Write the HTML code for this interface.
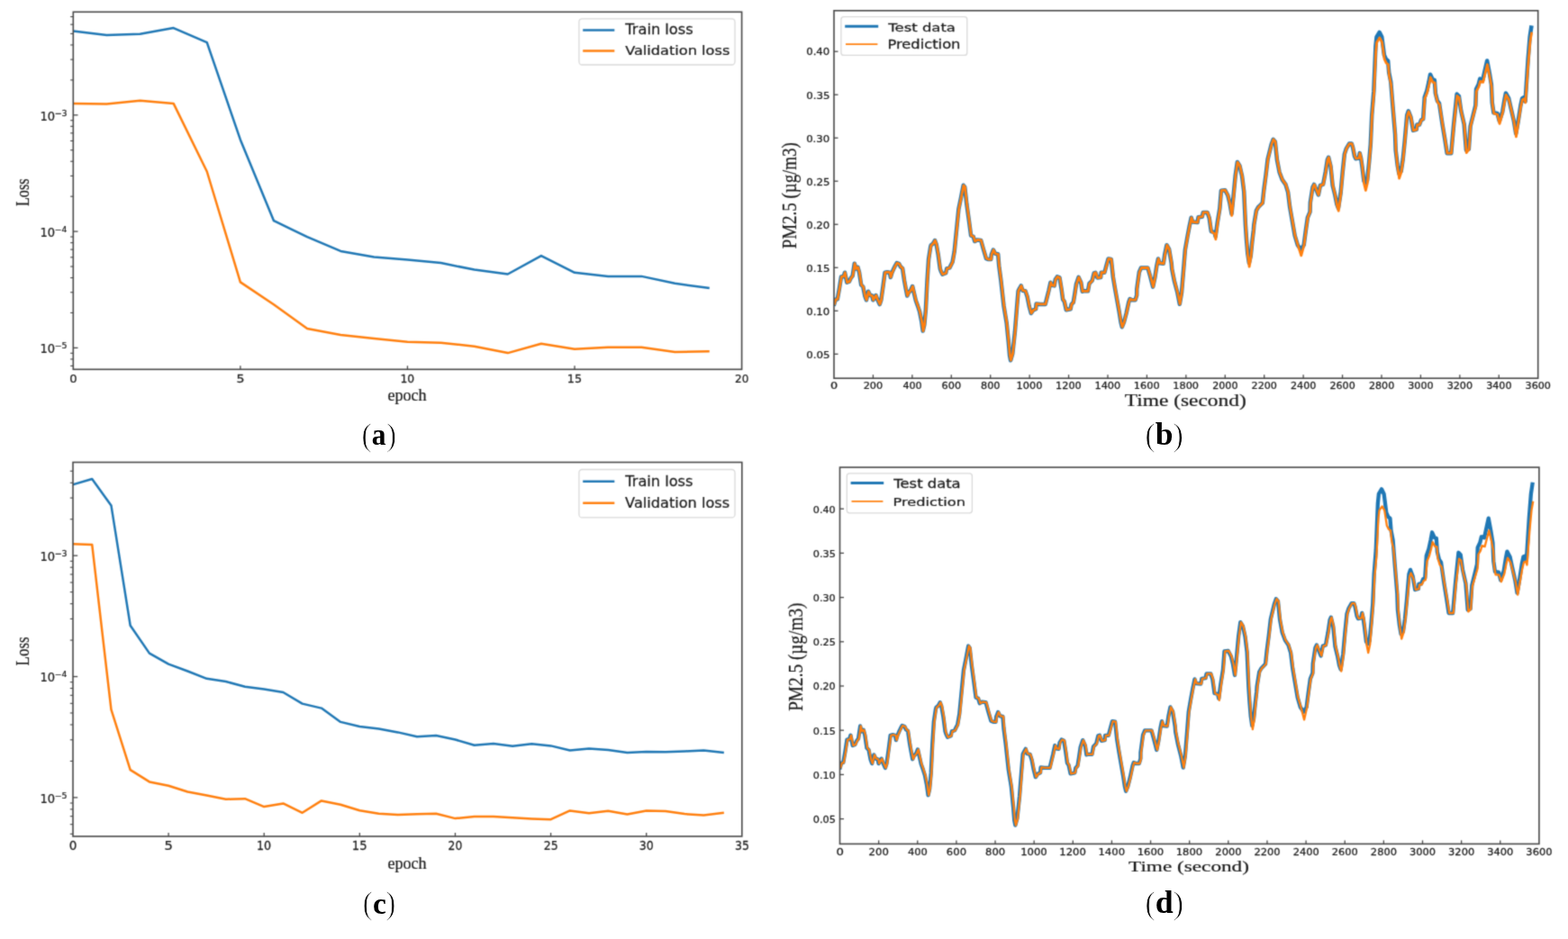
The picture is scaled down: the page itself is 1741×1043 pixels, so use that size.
<!DOCTYPE html>
<html><head><meta charset="utf-8"><title>Figure</title><style>html,body{margin:0;padding:0;background:#fff;overflow:hidden;}svg{display:block;}</style></head><body>
<svg width="1741" height="1043" viewBox="0 0 1741 1043">
<defs>
<clipPath id="ca"><rect x="81.3" y="13.3" width="742.30" height="397.00"/></clipPath>
<clipPath id="cc"><rect x="81.0" y="513.5" width="742.80" height="415.50"/></clipPath>
<clipPath id="cb"><rect x="926.0" y="11.8" width="781.70" height="408.40"/></clipPath>
<clipPath id="cd"><rect x="932.5" y="519.1" width="776.40" height="418.30"/></clipPath>
<filter id="soft" x="0" y="0" width="1741" height="1043" filterUnits="userSpaceOnUse" color-interpolation-filters="sRGB"><feConvolveMatrix order="3" kernelMatrix="1 4 1 4 16 4 1 4 1" edgeMode="duplicate" preserveAlpha="true"/></filter>
</defs>
<rect x="0" y="0" width="1741" height="1043" fill="#ffffff"/>
<g filter="url(#soft)"><rect x="0" y="0" width="1741" height="1043" fill="#ffffff"/>
<g clip-path="url(#ca)">
<polyline points="81.30,34.60 118.41,38.90 155.53,37.70 192.64,31.10 229.76,47.10 266.88,155.20 303.99,245.20 341.11,263.20 378.22,278.90 415.34,285.40 452.45,288.40 489.57,292.10 526.68,299.60 563.79,304.50 600.91,284.10 638.02,302.80 675.14,306.90 712.25,306.90 749.37,314.80 786.49,319.90" fill="none" stroke="#1f77b4" stroke-width="2.5" stroke-linejoin="round" stroke-linecap="square"/>
<polyline points="81.30,115.10 118.41,115.50 155.53,111.70 192.64,114.90 229.76,190.50 266.88,313.40 303.99,338.20 341.11,365.00 378.22,372.00 415.34,375.90 452.45,379.70 489.57,380.70 526.68,384.70 563.79,392.10 600.91,381.70 638.02,387.80 675.14,385.70 712.25,385.70 749.37,391.00 786.49,390.30" fill="none" stroke="#ff7f0e" stroke-width="2.5" stroke-linejoin="round" stroke-linecap="square"/>
</g>
<rect x="81.30" y="13.30" width="742.30" height="397.00" fill="none" stroke="#484848" stroke-width="1.6"/>
<line x1="78.10" y1="406.43" x2="81.30" y2="406.43" stroke="#484848" stroke-width="1.1"/>
<line x1="78.10" y1="398.93" x2="81.30" y2="398.93" stroke="#484848" stroke-width="1.1"/>
<line x1="78.10" y1="392.32" x2="81.30" y2="392.32" stroke="#484848" stroke-width="1.1"/>
<line x1="78.10" y1="347.48" x2="81.30" y2="347.48" stroke="#484848" stroke-width="1.1"/>
<line x1="78.10" y1="324.71" x2="81.30" y2="324.71" stroke="#484848" stroke-width="1.1"/>
<line x1="78.10" y1="308.55" x2="81.30" y2="308.55" stroke="#484848" stroke-width="1.1"/>
<line x1="78.10" y1="296.02" x2="81.30" y2="296.02" stroke="#484848" stroke-width="1.1"/>
<line x1="78.10" y1="285.79" x2="81.30" y2="285.79" stroke="#484848" stroke-width="1.1"/>
<line x1="78.10" y1="277.13" x2="81.30" y2="277.13" stroke="#484848" stroke-width="1.1"/>
<line x1="78.10" y1="269.63" x2="81.30" y2="269.63" stroke="#484848" stroke-width="1.1"/>
<line x1="78.10" y1="263.02" x2="81.30" y2="263.02" stroke="#484848" stroke-width="1.1"/>
<line x1="78.10" y1="218.18" x2="81.30" y2="218.18" stroke="#484848" stroke-width="1.1"/>
<line x1="78.10" y1="195.41" x2="81.30" y2="195.41" stroke="#484848" stroke-width="1.1"/>
<line x1="78.10" y1="179.25" x2="81.30" y2="179.25" stroke="#484848" stroke-width="1.1"/>
<line x1="78.10" y1="166.72" x2="81.30" y2="166.72" stroke="#484848" stroke-width="1.1"/>
<line x1="78.10" y1="156.49" x2="81.30" y2="156.49" stroke="#484848" stroke-width="1.1"/>
<line x1="78.10" y1="147.83" x2="81.30" y2="147.83" stroke="#484848" stroke-width="1.1"/>
<line x1="78.10" y1="140.33" x2="81.30" y2="140.33" stroke="#484848" stroke-width="1.1"/>
<line x1="78.10" y1="133.72" x2="81.30" y2="133.72" stroke="#484848" stroke-width="1.1"/>
<line x1="78.10" y1="88.88" x2="81.30" y2="88.88" stroke="#484848" stroke-width="1.1"/>
<line x1="78.10" y1="66.11" x2="81.30" y2="66.11" stroke="#484848" stroke-width="1.1"/>
<line x1="78.10" y1="49.95" x2="81.30" y2="49.95" stroke="#484848" stroke-width="1.1"/>
<line x1="78.10" y1="37.42" x2="81.30" y2="37.42" stroke="#484848" stroke-width="1.1"/>
<line x1="78.10" y1="27.19" x2="81.30" y2="27.19" stroke="#484848" stroke-width="1.1"/>
<line x1="78.10" y1="18.53" x2="81.30" y2="18.53" stroke="#484848" stroke-width="1.1"/>
<line x1="81.30" y1="127.80" x2="86.50" y2="127.80" stroke="#484848" stroke-width="1.3"/>
<text id="t1" transform="translate(44.52,133.60) scale(0.9611,1)" font-family='"DejaVu Sans", "Liberation Sans", sans-serif' font-size="13.595" fill="#1c1c1c" stroke="#1c1c1c" stroke-width="0.25">10</text>
<text id="t2" transform="translate(60.70,128.61) scale(1.0803,1)" font-family='"DejaVu Sans", "Liberation Sans", sans-serif' font-size="8.723" fill="#1c1c1c" stroke="#1c1c1c" stroke-width="0.25">−3</text>
<line x1="81.30" y1="257.10" x2="86.50" y2="257.10" stroke="#484848" stroke-width="1.3"/>
<text id="t3" transform="translate(44.52,262.93) scale(0.9611,1)" font-family='"DejaVu Sans", "Liberation Sans", sans-serif' font-size="13.595" fill="#1c1c1c" stroke="#1c1c1c" stroke-width="0.25">10</text>
<text id="t4" transform="translate(60.72,258.03) scale(1.0311,1)" font-family='"DejaVu Sans", "Liberation Sans", sans-serif' font-size="8.943" fill="#1c1c1c" stroke="#1c1c1c" stroke-width="0.25">−4</text>
<line x1="81.30" y1="386.40" x2="86.50" y2="386.40" stroke="#484848" stroke-width="1.3"/>
<text id="t5" transform="translate(44.52,392.13) scale(0.9611,1)" font-family='"DejaVu Sans", "Liberation Sans", sans-serif' font-size="13.595" fill="#1c1c1c" stroke="#1c1c1c" stroke-width="0.25">10</text>
<text id="t6" transform="translate(60.68,387.25) scale(1.0716,1)" font-family='"DejaVu Sans", "Liberation Sans", sans-serif' font-size="8.830" fill="#1c1c1c" stroke="#1c1c1c" stroke-width="0.25">−5</text>
<text id="t7" transform="translate(77.19,424.59) scale(1.0171,1)" font-family='"DejaVu Sans", "Liberation Sans", sans-serif' font-size="12.904" fill="#1c1c1c" stroke="#1c1c1c" stroke-width="0.25">0</text>
<line x1="266.88" y1="410.30" x2="266.88" y2="406.30" stroke="#484848" stroke-width="1.3"/>
<text id="t8" transform="translate(262.47,424.59) scale(1.0866,1)" font-family='"DejaVu Sans", "Liberation Sans", sans-serif' font-size="13.087" fill="#1c1c1c" stroke="#1c1c1c" stroke-width="0.25">5</text>
<line x1="452.45" y1="410.30" x2="452.45" y2="406.30" stroke="#484848" stroke-width="1.3"/>
<text id="t9" transform="translate(444.40,424.59) scale(0.9577,1)" font-family='"DejaVu Sans", "Liberation Sans", sans-serif' font-size="12.913" fill="#1c1c1c" stroke="#1c1c1c" stroke-width="0.25">10</text>
<line x1="638.02" y1="410.30" x2="638.02" y2="406.30" stroke="#484848" stroke-width="1.3"/>
<text id="t10" transform="translate(629.81,424.59) scale(0.9793,1)" font-family='"DejaVu Sans", "Liberation Sans", sans-serif' font-size="13.087" fill="#1c1c1c" stroke="#1c1c1c" stroke-width="0.25">15</text>
<text id="t11" transform="translate(816.05,424.59) scale(0.9264,1)" font-family='"DejaVu Sans", "Liberation Sans", sans-serif' font-size="12.921" fill="#1c1c1c" stroke="#1c1c1c" stroke-width="0.25">20</text>
<text id="t12" transform="translate(430.40,445.03) scale(0.9879,1)" font-family='"Liberation Serif", serif' font-size="18.347" fill="#1a1a1a" stroke="#151515" stroke-width="0.2">epoch</text>
<text id="t13" transform="translate(32.41,229.06) rotate(-90) scale(0.8130,1)" font-family='"Liberation Serif", serif' font-size="20.007" fill="#1a1a1a" stroke="#151515" stroke-width="0.2">Loss</text>
<rect x="642.90" y="20.80" width="173.10" height="51.20" rx="3.5" ry="3.5" fill="#ffffff" fill-opacity="0.8" stroke="#d9d9d9" stroke-width="1.3"/>
<line x1="647.20" y1="33.50" x2="682.30" y2="33.50" stroke="#1f77b4" stroke-width="2.4"/>
<text id="t14" transform="translate(694.27,38.35) scale(1.0743,1)" font-family='"DejaVu Sans", "Liberation Sans", sans-serif' font-size="15.092" fill="#1c1c1c" stroke="#1c1c1c" stroke-width="0.25">Train loss</text>
<line x1="647.20" y1="56.50" x2="682.30" y2="56.50" stroke="#ff7f0e" stroke-width="2.4"/>
<text id="t15" transform="translate(694.13,61.21) scale(1.0920,1)" font-family='"DejaVu Sans", "Liberation Sans", sans-serif' font-size="14.810" fill="#1c1c1c" stroke="#1c1c1c" stroke-width="0.25">Validation loss</text>
<g clip-path="url(#cc)">
<polyline points="81.00,538.20 102.22,532.00 123.45,561.40 144.67,694.80 165.89,725.60 187.11,737.70 208.34,745.50 229.56,753.80 250.78,757.00 272.01,762.80 293.23,765.40 314.45,769.00 335.67,781.60 356.90,786.60 378.12,801.90 399.34,807.00 420.57,809.50 441.79,813.40 463.01,818.20 484.23,817.00 505.46,821.50 526.68,827.80 547.90,826.10 569.13,828.80 590.35,826.30 611.57,828.40 632.79,833.50 654.02,831.60 675.24,833.00 696.46,835.90 717.69,834.90 738.91,835.20 760.13,834.50 781.35,833.50 802.58,835.90" fill="none" stroke="#1f77b4" stroke-width="2.5" stroke-linejoin="round" stroke-linecap="square"/>
<polyline points="81.00,604.20 102.22,604.90 123.45,788.20 144.67,855.10 165.89,868.40 187.11,872.70 208.34,879.50 229.56,883.40 250.78,887.70 272.01,887.20 293.23,896.10 314.45,892.40 335.67,902.80 356.90,889.40 378.12,893.70 399.34,900.20 420.57,903.70 441.79,904.90 463.01,904.20 484.23,903.70 505.46,909.10 526.68,907.00 547.90,906.90 569.13,908.20 590.35,909.40 611.57,910.20 632.79,900.40 654.02,903.30 675.24,900.80 696.46,904.40 717.69,900.50 738.91,901.10 760.13,904.10 781.35,905.60 802.58,903.00" fill="none" stroke="#ff7f0e" stroke-width="2.5" stroke-linejoin="round" stroke-linecap="square"/>
</g>
<rect x="81.00" y="513.50" width="742.80" height="415.50" fill="none" stroke="#484848" stroke-width="1.6"/>
<line x1="77.80" y1="926.31" x2="81.00" y2="926.31" stroke="#484848" stroke-width="1.1"/>
<line x1="77.80" y1="915.68" x2="81.00" y2="915.68" stroke="#484848" stroke-width="1.1"/>
<line x1="77.80" y1="906.68" x2="81.00" y2="906.68" stroke="#484848" stroke-width="1.1"/>
<line x1="77.80" y1="898.89" x2="81.00" y2="898.89" stroke="#484848" stroke-width="1.1"/>
<line x1="77.80" y1="892.02" x2="81.00" y2="892.02" stroke="#484848" stroke-width="1.1"/>
<line x1="77.80" y1="845.43" x2="81.00" y2="845.43" stroke="#484848" stroke-width="1.1"/>
<line x1="77.80" y1="821.77" x2="81.00" y2="821.77" stroke="#484848" stroke-width="1.1"/>
<line x1="77.80" y1="804.98" x2="81.00" y2="804.98" stroke="#484848" stroke-width="1.1"/>
<line x1="77.80" y1="791.96" x2="81.00" y2="791.96" stroke="#484848" stroke-width="1.1"/>
<line x1="77.80" y1="781.33" x2="81.00" y2="781.33" stroke="#484848" stroke-width="1.1"/>
<line x1="77.80" y1="772.33" x2="81.00" y2="772.33" stroke="#484848" stroke-width="1.1"/>
<line x1="77.80" y1="764.54" x2="81.00" y2="764.54" stroke="#484848" stroke-width="1.1"/>
<line x1="77.80" y1="757.67" x2="81.00" y2="757.67" stroke="#484848" stroke-width="1.1"/>
<line x1="77.80" y1="711.08" x2="81.00" y2="711.08" stroke="#484848" stroke-width="1.1"/>
<line x1="77.80" y1="687.42" x2="81.00" y2="687.42" stroke="#484848" stroke-width="1.1"/>
<line x1="77.80" y1="670.63" x2="81.00" y2="670.63" stroke="#484848" stroke-width="1.1"/>
<line x1="77.80" y1="657.61" x2="81.00" y2="657.61" stroke="#484848" stroke-width="1.1"/>
<line x1="77.80" y1="646.98" x2="81.00" y2="646.98" stroke="#484848" stroke-width="1.1"/>
<line x1="77.80" y1="637.98" x2="81.00" y2="637.98" stroke="#484848" stroke-width="1.1"/>
<line x1="77.80" y1="630.19" x2="81.00" y2="630.19" stroke="#484848" stroke-width="1.1"/>
<line x1="77.80" y1="623.32" x2="81.00" y2="623.32" stroke="#484848" stroke-width="1.1"/>
<line x1="77.80" y1="576.73" x2="81.00" y2="576.73" stroke="#484848" stroke-width="1.1"/>
<line x1="77.80" y1="553.07" x2="81.00" y2="553.07" stroke="#484848" stroke-width="1.1"/>
<line x1="77.80" y1="536.28" x2="81.00" y2="536.28" stroke="#484848" stroke-width="1.1"/>
<line x1="77.80" y1="523.26" x2="81.00" y2="523.26" stroke="#484848" stroke-width="1.1"/>
<line x1="81.00" y1="617.17" x2="86.20" y2="617.17" stroke="#484848" stroke-width="1.3"/>
<text id="t16" transform="translate(44.52,622.96) scale(0.9611,1)" font-family='"DejaVu Sans", "Liberation Sans", sans-serif' font-size="13.595" fill="#1c1c1c" stroke="#1c1c1c" stroke-width="0.25">10</text>
<text id="t17" transform="translate(60.70,618.08) scale(1.0803,1)" font-family='"DejaVu Sans", "Liberation Sans", sans-serif' font-size="8.723" fill="#1c1c1c" stroke="#1c1c1c" stroke-width="0.25">−3</text>
<line x1="81.00" y1="751.52" x2="86.20" y2="751.52" stroke="#484848" stroke-width="1.3"/>
<text id="t18" transform="translate(44.52,757.36) scale(0.9611,1)" font-family='"DejaVu Sans", "Liberation Sans", sans-serif' font-size="13.595" fill="#1c1c1c" stroke="#1c1c1c" stroke-width="0.25">10</text>
<text id="t19" transform="translate(60.72,752.45) scale(1.0311,1)" font-family='"DejaVu Sans", "Liberation Sans", sans-serif' font-size="8.943" fill="#1c1c1c" stroke="#1c1c1c" stroke-width="0.25">−4</text>
<line x1="81.00" y1="885.87" x2="86.20" y2="885.87" stroke="#484848" stroke-width="1.3"/>
<text id="t20" transform="translate(44.52,891.63) scale(0.9611,1)" font-family='"DejaVu Sans", "Liberation Sans", sans-serif' font-size="13.595" fill="#1c1c1c" stroke="#1c1c1c" stroke-width="0.25">10</text>
<text id="t21" transform="translate(60.68,886.63) scale(1.0716,1)" font-family='"DejaVu Sans", "Liberation Sans", sans-serif' font-size="8.830" fill="#1c1c1c" stroke="#1c1c1c" stroke-width="0.25">−5</text>
<text id="t22" transform="translate(76.80,943.97) scale(1.0206,1)" font-family='"DejaVu Sans", "Liberation Sans", sans-serif' font-size="13.306" fill="#1c1c1c" stroke="#1c1c1c" stroke-width="0.25">0</text>
<line x1="187.11" y1="929.00" x2="187.11" y2="925.00" stroke="#484848" stroke-width="1.3"/>
<text id="t23" transform="translate(182.59,943.94) scale(1.0914,1)" font-family='"DejaVu Sans", "Liberation Sans", sans-serif' font-size="13.511" fill="#1c1c1c" stroke="#1c1c1c" stroke-width="0.25">5</text>
<line x1="293.23" y1="929.00" x2="293.23" y2="925.00" stroke="#484848" stroke-width="1.3"/>
<text id="t24" transform="translate(284.92,943.97) scale(0.9560,1)" font-family='"DejaVu Sans", "Liberation Sans", sans-serif' font-size="13.308" fill="#1c1c1c" stroke="#1c1c1c" stroke-width="0.25">10</text>
<line x1="399.34" y1="929.00" x2="399.34" y2="925.00" stroke="#484848" stroke-width="1.3"/>
<text id="t25" transform="translate(390.87,943.94) scale(0.9756,1)" font-family='"DejaVu Sans", "Liberation Sans", sans-serif' font-size="13.512" fill="#1c1c1c" stroke="#1c1c1c" stroke-width="0.25">15</text>
<line x1="505.46" y1="929.00" x2="505.46" y2="925.00" stroke="#484848" stroke-width="1.3"/>
<text id="t26" transform="translate(497.62,943.97) scale(0.9259,1)" font-family='"DejaVu Sans", "Liberation Sans", sans-serif' font-size="13.304" fill="#1c1c1c" stroke="#1c1c1c" stroke-width="0.25">20</text>
<line x1="611.57" y1="929.00" x2="611.57" y2="925.00" stroke="#484848" stroke-width="1.3"/>
<text id="t27" transform="translate(603.78,943.94) scale(0.9399,1)" font-family='"DejaVu Sans", "Liberation Sans", sans-serif' font-size="13.270" fill="#1c1c1c" stroke="#1c1c1c" stroke-width="0.25">25</text>
<line x1="717.69" y1="929.00" x2="717.69" y2="925.00" stroke="#484848" stroke-width="1.3"/>
<text id="t28" transform="translate(709.79,943.93) scale(0.9368,1)" font-family='"DejaVu Sans", "Liberation Sans", sans-serif' font-size="13.291" fill="#1c1c1c" stroke="#1c1c1c" stroke-width="0.25">30</text>
<text id="t29" transform="translate(815.97,943.93) scale(0.9410,1)" font-family='"DejaVu Sans", "Liberation Sans", sans-serif' font-size="13.291" fill="#1c1c1c" stroke="#1c1c1c" stroke-width="0.25">35</text>
<text id="t30" transform="translate(430.40,965.11) scale(0.9587,1)" font-family='"Liberation Serif", serif' font-size="18.909" fill="#1a1a1a" stroke="#151515" stroke-width="0.2">epoch</text>
<text id="t31" transform="translate(32.41,739.45) rotate(-90) scale(0.8491,1)" font-family='"Liberation Serif", serif' font-size="20.008" fill="#1a1a1a" stroke="#151515" stroke-width="0.2">Loss</text>
<rect x="642.90" y="521.50" width="173.10" height="53.40" rx="3.5" ry="3.5" fill="#ffffff" fill-opacity="0.8" stroke="#d9d9d9" stroke-width="1.3"/>
<line x1="647.20" y1="534.70" x2="682.30" y2="534.70" stroke="#1f77b4" stroke-width="2.4"/>
<text id="t32" transform="translate(694.26,539.86) scale(1.0079,1)" font-family='"DejaVu Sans", "Liberation Sans", sans-serif' font-size="16.061" fill="#1c1c1c" stroke="#1c1c1c" stroke-width="0.25">Train loss</text>
<line x1="647.20" y1="558.80" x2="682.30" y2="558.80" stroke="#ff7f0e" stroke-width="2.4"/>
<text id="t33" transform="translate(694.11,563.84) scale(1.0037,1)" font-family='"DejaVu Sans", "Liberation Sans", sans-serif' font-size="16.107" fill="#1c1c1c" stroke="#1c1c1c" stroke-width="0.25">Validation loss</text>
<g clip-path="url(#cb)">
<polyline points="926.32,337.51 927.69,332.76 929.80,332.24 931.91,320.63 934.02,307.45 936.66,306.92 938.03,302.70 940.35,313.78 942.99,312.72 944.57,309.03 946.68,306.39 948.79,292.68 950.37,298.48 952.48,296.90 954.06,302.70 956.17,316.41 958.28,318.52 960.39,329.07 961.97,333.29 964.08,323.80 966.19,328.02 968.30,328.54 969.36,333.29 972.52,328.02 974.11,332.24 976.74,338.04 978.32,333.29 980.43,318.52 982.54,302.70 985.18,302.17 987.82,302.70 988.87,307.97 990.46,302.70 992.57,297.95 994.15,294.79 995.73,292.15 998.37,293.21 999.95,296.37 1002.06,297.95 1004.17,312.19 1005.75,320.63 1007.33,328.54 1008.92,324.85 1011.03,322.74 1013.14,318.00 1015.24,326.96 1016.83,333.82 1018.94,339.62 1021.05,345.95 1023.16,356.50 1024.74,367.57 1026.32,360.72 1027.90,343.84 1029.49,312.19 1031.07,287.93 1033.18,274.22 1033.80,272.28 1035.91,270.70 1038.02,267.00 1039.60,271.22 1041.71,282.83 1043.82,298.44 1044.88,301.60 1046.46,304.77 1050.15,303.19 1051.21,298.44 1054.37,297.38 1056.48,293.16 1057.54,291.27 1059.65,279.66 1061.76,258.57 1064.39,232.19 1067.03,219.54 1069.67,205.82 1071.25,207.93 1073.36,226.92 1076.00,245.91 1078.11,261.73 1080.74,262.78 1082.32,268.06 1084.96,266.48 1089.18,267.00 1091.82,276.50 1094.98,287.05 1097.62,288.10 1100.26,288.10 1100.78,282.83 1102.89,277.55 1105.00,281.77 1108.17,282.30 1109.22,295.27 1111.33,311.10 1114.50,339.58 1117.66,358.57 1119.77,379.66 1121.10,394.94 1122.15,400.21 1124.26,392.83 1126.90,368.57 1129.01,342.19 1130.59,323.21 1132.17,320.04 1133.76,317.41 1135.34,322.68 1138.50,323.21 1140.61,329.54 1142.72,340.08 1144.83,348.00 1147.47,344.30 1150.11,343.25 1150.63,337.45 1154.85,337.97 1160.65,337.97 1162.24,331.65 1164.35,323.21 1166.46,313.71 1168.04,316.88 1170.68,317.41 1171.73,310.55 1173.84,307.38 1176.48,308.44 1178.59,321.10 1180.17,332.70 1181.75,334.81 1183.86,344.30 1188.61,343.25 1189.66,337.97 1191.77,335.86 1193.35,326.37 1194.94,315.82 1197.57,307.91 1200.21,313.71 1201.79,323.73 1202.11,323.33 1207.91,323.33 1209.49,314.89 1212.66,311.73 1214.77,303.29 1216.35,302.76 1218.46,308.57 1222.15,308.04 1222.68,302.76 1226.37,302.76 1228.48,294.85 1230.59,287.47 1233.76,288.00 1235.86,307.51 1237.97,320.17 1240.61,334.94 1242.68,346.37 1244.53,357.97 1245.84,363.25 1247.95,357.97 1250.59,347.95 1253.23,335.82 1254.55,332.13 1256.92,333.19 1260.61,333.19 1262.19,327.91 1262.24,321.22 1264.87,302.24 1266.98,297.49 1274.37,297.49 1277.00,306.46 1280.17,318.59 1282.28,308.57 1284.39,294.85 1285.97,287.47 1287.55,292.22 1291.77,292.74 1293.35,282.19 1295.46,272.17 1298.10,276.92 1300.74,292.74 1301.23,298.86 1303.82,311.81 1307.27,324.77 1309.86,337.72 1312.02,324.77 1314.18,298.86 1315.91,277.27 1318.50,262.59 1320.57,251.77 1322.68,241.75 1324.26,246.50 1329.54,247.03 1330.59,241.22 1334.81,240.70 1335.86,235.95 1340.61,235.95 1342.72,242.28 1344.83,257.05 1348.52,258.10 1349.58,262.85 1351.69,247.55 1354.32,231.73 1355.91,211.69 1360.13,211.16 1363.29,216.96 1365.40,225.40 1367.51,237.53 1369.62,216.96 1371.73,194.81 1373.84,180.04 1376.48,184.26 1379.11,195.86 1381.22,212.74 1382.93,250.00 1383.99,265.82 1385.31,281.65 1386.89,292.19 1388.73,284.28 1390.32,268.46 1391.90,255.27 1392.30,249.66 1394.94,233.84 1397.05,230.15 1399.68,227.51 1401.79,225.40 1403.38,210.63 1405.49,194.81 1407.59,176.88 1411.60,160.59 1413.71,154.79 1415.82,157.43 1417.93,177.47 1420.57,191.18 1423.73,199.62 1427.43,204.89 1430.06,213.33 1432.17,230.21 1437.66,261.65 1440.82,272.19 1444.51,277.41 1447.68,272.19 1449.79,256.37 1451.90,241.60 1454.54,235.27 1454.85,224.94 1457.49,208.06 1459.07,204.89 1461.18,210.17 1463.82,216.50 1465.93,205.95 1469.09,204.89 1471.73,191.18 1473.84,177.47 1475.11,174.83 1477.53,184.85 1479.64,205.95 1482.28,216.50 1484.39,227.05 1485.97,231.27 1488.61,214.39 1490.72,191.18 1492.83,171.14 1494.94,164.81 1498.10,159.54 1500.74,159.54 1502.01,163.42 1504.03,173.49 1505.37,176.17 1508.72,175.50 1509.73,170.13 1511.07,175.50 1512.42,184.90 1514.43,201.01 1516.11,203.69 1518.12,200.34 1520.13,180.20 1521.81,160.07 1523.21,128.02 1525.32,101.65 1527.41,51.65 1528.46,41.10 1531.62,35.82 1534.26,41.10 1535.32,49.01 1536.90,61.14 1539.01,65.89 1541.12,67.47 1542.19,80.55 1544.30,91.10 1546.41,117.47 1549.05,149.11 1549.66,166.78 1551.68,183.56 1553.36,192.95 1555.70,190.27 1557.72,176.85 1559.73,156.71 1562.24,128.02 1563.82,123.27 1566.46,130.13 1569.09,144.89 1572.78,143.84 1573.31,138.57 1575.95,138.57 1578.06,133.29 1580.17,132.24 1581.75,107.97 1584.39,100.59 1586.50,91.10 1588.08,82.66 1590.72,88.46 1592.83,88.99 1593.88,103.76 1595.99,112.19 1598.06,114.96 1601.51,137.97 1604.38,155.24 1606.69,170.20 1611.29,170.20 1614.17,137.97 1617.62,104.60 1619.92,106.90 1622.22,123.01 1625.67,137.97 1627.97,166.74 1630.85,165.59 1632.58,140.28 1636.03,126.47 1638.33,117.26 1639.03,99.11 1641.67,93.84 1643.25,87.51 1646.41,88.57 1648.52,79.07 1651.16,67.47 1653.80,81.18 1655.91,93.84 1656.74,113.81 1658.47,125.32 1662.50,125.89 1664.80,134.52 1668.25,124.17 1670.55,110.36 1671.93,103.45 1675.16,109.21 1677.46,119.56 1680.91,134.52 1683.21,148.33 1685.51,135.67 1688.39,117.26 1690.12,109.21 1692.42,108.06 1693.57,112.66 1696.52,67.47 1698.63,41.10 1700.21,30.55" fill="none" stroke="#1f77b4" stroke-width="4.5" stroke-linejoin="round" stroke-linecap="square"/>
<polyline points="926.57,337.51 927.94,332.76 930.05,332.24 932.16,320.63 934.27,307.45 936.91,306.92 938.28,302.70 940.60,313.78 943.24,312.72 944.82,309.03 946.93,306.39 949.04,292.68 950.62,298.48 952.73,296.90 954.31,302.70 956.42,316.41 958.53,318.52 960.64,329.07 962.22,333.29 964.33,323.80 966.44,328.02 968.55,328.54 969.61,333.29 972.77,328.02 974.36,332.24 976.99,338.04 978.57,333.29 980.68,318.52 982.79,302.70 985.43,302.17 988.07,302.70 989.12,307.97 990.71,302.70 992.82,297.95 994.40,294.79 995.98,292.15 998.62,293.21 1000.20,296.37 1002.31,297.95 1004.42,312.19 1006.00,320.63 1007.58,328.54 1009.17,324.85 1011.28,322.74 1013.39,318.00 1015.49,326.96 1017.08,333.82 1019.19,339.62 1021.30,345.95 1023.41,356.50 1024.99,367.57 1026.57,360.72 1028.15,343.84 1029.74,312.19 1031.32,287.93 1033.43,274.22 1034.05,272.28 1036.16,270.70 1038.27,267.00 1039.85,271.22 1041.96,282.83 1044.07,298.44 1045.13,301.60 1046.71,304.77 1050.40,303.19 1051.46,298.44 1054.62,297.38 1056.73,293.16 1057.79,291.27 1059.90,279.66 1062.01,258.57 1064.64,232.19 1067.28,219.54 1069.92,205.82 1071.50,207.93 1073.61,226.92 1076.25,245.91 1078.36,261.73 1080.99,262.78 1082.57,268.06 1085.21,266.48 1089.43,267.00 1092.07,276.50 1095.23,287.05 1097.87,288.10 1100.51,288.10 1101.03,282.83 1103.14,277.55 1105.25,281.77 1108.42,282.30 1109.47,295.27 1111.58,311.10 1114.75,339.58 1117.91,358.57 1120.02,379.66 1121.35,394.94 1122.40,400.21 1124.51,392.83 1127.15,368.57 1129.26,342.19 1130.84,323.21 1132.42,320.04 1134.01,317.41 1135.59,322.68 1138.75,323.21 1140.86,329.54 1142.97,340.08 1145.08,348.00 1147.72,344.30 1150.36,343.25 1150.88,337.45 1155.10,337.97 1160.90,337.97 1162.49,331.65 1164.60,323.21 1166.71,313.71 1168.29,316.88 1170.93,317.41 1171.98,310.55 1174.09,307.38 1176.73,308.44 1178.84,321.10 1180.42,332.70 1182.00,334.81 1184.11,344.30 1188.86,343.25 1189.91,337.97 1192.02,335.86 1193.60,326.37 1195.19,315.82 1197.82,307.91 1200.46,313.71 1202.04,323.73 1202.36,323.33 1208.16,323.33 1209.74,314.89 1212.91,311.73 1215.02,303.29 1216.60,302.76 1218.71,308.57 1222.40,308.04 1222.93,302.76 1226.62,302.76 1228.73,294.85 1230.84,287.47 1234.01,288.00 1236.11,307.51 1238.22,320.17 1240.86,334.94 1242.93,346.37 1244.78,357.97 1246.09,363.25 1248.20,357.97 1250.84,347.95 1253.48,335.82 1254.80,332.13 1257.17,333.19 1260.86,333.19 1262.44,327.91 1262.49,321.22 1265.12,302.24 1267.23,297.49 1274.62,297.49 1277.25,306.46 1280.42,318.59 1282.53,308.57 1284.64,294.85 1286.22,287.47 1287.80,292.22 1292.02,292.74 1293.60,282.19 1295.71,272.17 1298.35,276.92 1300.99,292.74 1301.48,298.86 1304.07,311.81 1307.52,324.77 1310.11,337.72 1312.27,324.77 1314.43,298.86 1316.16,277.27 1318.75,262.59 1320.82,251.77 1322.93,241.75 1324.51,246.50 1329.79,247.03 1330.84,241.22 1335.06,240.70 1336.11,235.95 1340.86,235.95 1342.97,242.28 1345.08,257.05 1348.77,260.00 1349.83,265.79 1351.94,248.53 1354.57,231.73 1356.16,211.69 1360.38,211.16 1363.54,216.96 1365.65,226.06 1367.76,239.49 1369.87,217.53 1371.98,194.81 1374.09,180.04 1376.73,184.26 1379.36,195.86 1381.47,212.74 1383.18,250.00 1384.24,266.53 1385.56,284.30 1387.14,296.20 1388.98,285.55 1390.57,268.46 1392.15,255.27 1392.55,249.66 1395.19,233.84 1397.30,230.15 1399.93,227.51 1402.04,225.40 1403.63,210.63 1405.74,194.81 1407.84,176.88 1411.85,160.59 1413.96,154.79 1416.07,157.43 1418.18,177.47 1420.82,191.18 1423.98,199.62 1427.68,204.89 1430.31,213.33 1432.42,230.21 1437.91,261.65 1441.07,272.19 1444.76,283.88 1447.93,272.19 1450.04,256.37 1452.15,241.60 1454.79,235.27 1455.10,224.94 1457.74,208.06 1459.32,204.89 1461.43,210.17 1464.07,216.50 1466.18,205.95 1469.34,204.89 1471.98,191.18 1474.09,177.47 1475.36,174.83 1477.78,184.85 1479.89,205.95 1482.53,216.50 1484.64,228.45 1486.22,234.24 1488.86,214.82 1490.97,191.18 1493.08,171.14 1495.19,164.81 1498.35,159.54 1500.99,159.54 1502.26,163.42 1504.28,173.49 1505.62,176.17 1508.97,175.50 1509.98,170.13 1511.32,175.50 1512.67,184.90 1514.68,204.39 1516.36,211.49 1518.37,203.24 1520.38,180.20 1522.06,160.07 1523.46,128.39 1525.57,103.67 1527.66,56.79 1528.71,46.90 1531.87,41.96 1534.51,46.90 1535.57,54.32 1537.15,65.69 1539.26,70.14 1541.37,71.63 1542.44,83.89 1544.55,93.78 1546.66,118.50 1549.30,149.11 1549.91,166.78 1551.93,186.49 1553.61,197.99 1555.95,191.05 1557.97,176.85 1559.98,156.71 1562.49,128.39 1564.07,123.94 1566.71,130.37 1569.34,144.89 1573.03,143.84 1573.56,138.57 1576.20,138.57 1578.31,133.34 1580.42,132.35 1582.00,109.60 1584.64,102.68 1586.75,93.78 1588.33,85.87 1590.97,91.31 1593.08,91.80 1594.13,105.65 1596.24,113.56 1598.31,116.15 1601.76,137.97 1604.63,155.24 1606.94,170.20 1611.54,170.20 1614.42,137.97 1617.87,106.44 1620.17,108.60 1622.47,123.70 1625.92,138.67 1628.22,169.71 1631.10,165.79 1632.83,140.28 1636.28,126.94 1638.58,118.31 1639.28,101.30 1641.92,96.35 1643.50,90.42 1646.66,91.41 1648.77,82.51 1651.41,71.63 1654.05,84.48 1656.16,96.35 1656.99,115.07 1658.72,125.86 1662.75,127.22 1665.05,137.43 1668.50,124.78 1670.80,111.84 1672.18,105.36 1675.41,110.76 1677.71,120.47 1681.16,135.43 1683.46,151.78 1685.76,136.47 1688.64,118.31 1690.37,110.76 1692.67,109.68 1693.82,113.99 1696.77,71.63 1698.88,46.90 1700.46,37.01" fill="none" stroke="#ff7f0e" stroke-width="2.8" stroke-linejoin="round" stroke-linecap="square"/>
</g>
<rect x="926.00" y="11.80" width="781.70" height="408.40" fill="none" stroke="#484848" stroke-width="1.6"/>
<line x1="926.00" y1="393.31" x2="930.50" y2="393.31" stroke="#484848" stroke-width="1.3"/>
<text id="t34" transform="translate(895.23,397.66) scale(1.1631,1)" font-family='"DejaVu Sans", "Liberation Sans", sans-serif' font-size="10.166" fill="#1c1c1c" stroke="#1c1c1c" stroke-width="0.25">0.05</text>
<line x1="926.00" y1="345.29" x2="930.50" y2="345.29" stroke="#484848" stroke-width="1.3"/>
<text id="t35" transform="translate(895.15,349.60) scale(1.1570,1)" font-family='"DejaVu Sans", "Liberation Sans", sans-serif' font-size="10.170" fill="#1c1c1c" stroke="#1c1c1c" stroke-width="0.25">0.10</text>
<line x1="926.00" y1="297.27" x2="930.50" y2="297.27" stroke="#484848" stroke-width="1.3"/>
<text id="t36" transform="translate(895.23,301.53) scale(1.1630,1)" font-family='"DejaVu Sans", "Liberation Sans", sans-serif' font-size="10.168" fill="#1c1c1c" stroke="#1c1c1c" stroke-width="0.25">0.15</text>
<line x1="926.00" y1="249.26" x2="930.50" y2="249.26" stroke="#484848" stroke-width="1.3"/>
<text id="t37" transform="translate(895.15,253.60) scale(1.1570,1)" font-family='"DejaVu Sans", "Liberation Sans", sans-serif' font-size="10.170" fill="#1c1c1c" stroke="#1c1c1c" stroke-width="0.25">0.20</text>
<line x1="926.00" y1="201.25" x2="930.50" y2="201.25" stroke="#484848" stroke-width="1.3"/>
<text id="t38" transform="translate(895.23,205.53) scale(1.1635,1)" font-family='"DejaVu Sans", "Liberation Sans", sans-serif' font-size="10.164" fill="#1c1c1c" stroke="#1c1c1c" stroke-width="0.25">0.25</text>
<line x1="926.00" y1="153.23" x2="930.50" y2="153.23" stroke="#484848" stroke-width="1.3"/>
<text id="t39" transform="translate(895.15,157.60) scale(1.1564,1)" font-family='"DejaVu Sans", "Liberation Sans", sans-serif' font-size="10.159" fill="#1c1c1c" stroke="#1c1c1c" stroke-width="0.25">0.30</text>
<line x1="926.00" y1="105.21" x2="930.50" y2="105.21" stroke="#484848" stroke-width="1.3"/>
<text id="t40" transform="translate(895.23,109.54) scale(1.1623,1)" font-family='"DejaVu Sans", "Liberation Sans", sans-serif' font-size="10.161" fill="#1c1c1c" stroke="#1c1c1c" stroke-width="0.25">0.35</text>
<line x1="926.00" y1="57.20" x2="930.50" y2="57.20" stroke="#484848" stroke-width="1.3"/>
<text id="t41" transform="translate(895.15,61.48) scale(1.1570,1)" font-family='"DejaVu Sans", "Liberation Sans", sans-serif' font-size="10.170" fill="#1c1c1c" stroke="#1c1c1c" stroke-width="0.25">0.40</text>
<text id="t42" transform="translate(921.96,432.35) scale(1.3042,1)" font-family='"DejaVu Sans", "Liberation Sans", sans-serif' font-size="9.825" fill="#1c1c1c" stroke="#1c1c1c" stroke-width="0.25">0</text>
<line x1="969.43" y1="420.20" x2="969.43" y2="416.20" stroke="#484848" stroke-width="1.3"/>
<text id="t43" transform="translate(958.68,432.35) scale(1.1475,1)" font-family='"DejaVu Sans", "Liberation Sans", sans-serif' font-size="9.845" fill="#1c1c1c" stroke="#1c1c1c" stroke-width="0.25">200</text>
<line x1="1012.86" y1="420.20" x2="1012.86" y2="416.20" stroke="#484848" stroke-width="1.3"/>
<text id="t44" transform="translate(1002.40,432.35) scale(1.1353,1)" font-family='"DejaVu Sans", "Liberation Sans", sans-serif' font-size="9.842" fill="#1c1c1c" stroke="#1c1c1c" stroke-width="0.25">400</text>
<line x1="1056.28" y1="420.20" x2="1056.28" y2="416.20" stroke="#484848" stroke-width="1.3"/>
<text id="t45" transform="translate(1045.48,432.34) scale(1.1536,1)" font-family='"DejaVu Sans", "Liberation Sans", sans-serif' font-size="9.843" fill="#1c1c1c" stroke="#1c1c1c" stroke-width="0.25">600</text>
<line x1="1099.71" y1="420.20" x2="1099.71" y2="416.20" stroke="#484848" stroke-width="1.3"/>
<text id="t46" transform="translate(1089.01,432.34) scale(1.1463,1)" font-family='"DejaVu Sans", "Liberation Sans", sans-serif' font-size="9.843" fill="#1c1c1c" stroke="#1c1c1c" stroke-width="0.25">800</text>
<line x1="1143.14" y1="420.20" x2="1143.14" y2="416.20" stroke="#484848" stroke-width="1.3"/>
<text id="t47" transform="translate(1128.53,432.35) scale(1.1506,1)" font-family='"DejaVu Sans", "Liberation Sans", sans-serif' font-size="9.848" fill="#1c1c1c" stroke="#1c1c1c" stroke-width="0.25">1000</text>
<line x1="1186.57" y1="420.20" x2="1186.57" y2="416.20" stroke="#484848" stroke-width="1.3"/>
<text id="t48" transform="translate(1172.05,432.35) scale(1.1464,1)" font-family='"DejaVu Sans", "Liberation Sans", sans-serif' font-size="9.843" fill="#1c1c1c" stroke="#1c1c1c" stroke-width="0.25">1200</text>
<line x1="1229.99" y1="420.20" x2="1229.99" y2="416.20" stroke="#484848" stroke-width="1.3"/>
<text id="t49" transform="translate(1215.46,432.35) scale(1.1492,1)" font-family='"DejaVu Sans", "Liberation Sans", sans-serif' font-size="9.842" fill="#1c1c1c" stroke="#1c1c1c" stroke-width="0.25">1400</text>
<line x1="1273.42" y1="420.20" x2="1273.42" y2="416.20" stroke="#484848" stroke-width="1.3"/>
<text id="t50" transform="translate(1258.81,432.34) scale(1.1519,1)" font-family='"DejaVu Sans", "Liberation Sans", sans-serif' font-size="9.837" fill="#1c1c1c" stroke="#1c1c1c" stroke-width="0.25">1600</text>
<line x1="1316.85" y1="420.20" x2="1316.85" y2="416.20" stroke="#484848" stroke-width="1.3"/>
<text id="t51" transform="translate(1302.28,432.34) scale(1.1500,1)" font-family='"DejaVu Sans", "Liberation Sans", sans-serif' font-size="9.839" fill="#1c1c1c" stroke="#1c1c1c" stroke-width="0.25">1800</text>
<line x1="1360.28" y1="420.20" x2="1360.28" y2="416.20" stroke="#484848" stroke-width="1.3"/>
<text id="t52" transform="translate(1346.16,432.35) scale(1.1320,1)" font-family='"DejaVu Sans", "Liberation Sans", sans-serif' font-size="9.845" fill="#1c1c1c" stroke="#1c1c1c" stroke-width="0.25">2000</text>
<line x1="1403.71" y1="420.20" x2="1403.71" y2="416.20" stroke="#484848" stroke-width="1.3"/>
<text id="t53" transform="translate(1389.58,432.35) scale(1.1331,1)" font-family='"DejaVu Sans", "Liberation Sans", sans-serif' font-size="9.845" fill="#1c1c1c" stroke="#1c1c1c" stroke-width="0.25">2200</text>
<line x1="1447.13" y1="420.20" x2="1447.13" y2="416.20" stroke="#484848" stroke-width="1.3"/>
<text id="t54" transform="translate(1432.95,432.35) scale(1.1339,1)" font-family='"DejaVu Sans", "Liberation Sans", sans-serif' font-size="9.846" fill="#1c1c1c" stroke="#1c1c1c" stroke-width="0.25">2400</text>
<line x1="1490.56" y1="420.20" x2="1490.56" y2="416.20" stroke="#484848" stroke-width="1.3"/>
<text id="t55" transform="translate(1476.45,432.34) scale(1.1304,1)" font-family='"DejaVu Sans", "Liberation Sans", sans-serif' font-size="9.838" fill="#1c1c1c" stroke="#1c1c1c" stroke-width="0.25">2600</text>
<line x1="1533.99" y1="420.20" x2="1533.99" y2="416.20" stroke="#484848" stroke-width="1.3"/>
<text id="t56" transform="translate(1519.88,432.35) scale(1.1337,1)" font-family='"DejaVu Sans", "Liberation Sans", sans-serif' font-size="9.845" fill="#1c1c1c" stroke="#1c1c1c" stroke-width="0.25">2800</text>
<line x1="1577.42" y1="420.20" x2="1577.42" y2="416.20" stroke="#484848" stroke-width="1.3"/>
<text id="t57" transform="translate(1563.21,432.34) scale(1.1349,1)" font-family='"DejaVu Sans", "Liberation Sans", sans-serif' font-size="9.843" fill="#1c1c1c" stroke="#1c1c1c" stroke-width="0.25">3000</text>
<line x1="1620.84" y1="420.20" x2="1620.84" y2="416.20" stroke="#484848" stroke-width="1.3"/>
<text id="t58" transform="translate(1606.64,432.34) scale(1.1379,1)" font-family='"DejaVu Sans", "Liberation Sans", sans-serif' font-size="9.836" fill="#1c1c1c" stroke="#1c1c1c" stroke-width="0.25">3200</text>
<line x1="1664.27" y1="420.20" x2="1664.27" y2="416.20" stroke="#484848" stroke-width="1.3"/>
<text id="t59" transform="translate(1650.13,432.34) scale(1.1339,1)" font-family='"DejaVu Sans", "Liberation Sans", sans-serif' font-size="9.833" fill="#1c1c1c" stroke="#1c1c1c" stroke-width="0.25">3400</text>
<text id="t60" transform="translate(1693.53,432.34) scale(1.1355,1)" font-family='"DejaVu Sans", "Liberation Sans", sans-serif' font-size="9.835" fill="#1c1c1c" stroke="#1c1c1c" stroke-width="0.25">3600</text>
<text id="t61" transform="translate(1248.80,450.63) scale(1.3164,1)" font-family='"Liberation Serif", serif' font-size="17.781" fill="#1a1a1a" stroke="#151515" stroke-width="0.2">Time (second)</text>
<text id="t62" transform="translate(884.41,276.33) rotate(-90) scale(0.8091,1)" font-family='"Liberation Serif", serif' font-size="23.412" fill="#1a1a1a" stroke="#151515" stroke-width="0.2">PM2.5 (µg/m3)</text>
<rect x="933.90" y="18.70" width="139.90" height="42.70" rx="3.0" ry="3.0" fill="#ffffff" fill-opacity="0.8" stroke="#d9d9d9" stroke-width="1.3"/>
<line x1="938.20" y1="29.30" x2="975.20" y2="29.30" stroke="#1f77b4" stroke-width="3.0"/>
<text id="t63" transform="translate(986.34,34.59) scale(1.3079,1)" font-family='"DejaVu Sans", "Liberation Sans", sans-serif' font-size="12.578" fill="#1c1c1c" stroke="#1c1c1c" stroke-width="0.25">Test data</text>
<line x1="939.00" y1="49.10" x2="974.40" y2="49.10" stroke="#ff7f0e" stroke-width="1.9"/>
<text id="t64" transform="translate(985.38,54.43) scale(1.2202,1)" font-family='"DejaVu Sans", "Liberation Sans", sans-serif' font-size="13.388" fill="#1c1c1c" stroke="#1c1c1c" stroke-width="0.25">Prediction</text>
<g clip-path="url(#cd)">
<polyline points="932.82,852.43 934.18,847.56 936.28,847.02 938.37,835.13 940.47,821.62 943.09,821.08 944.45,816.76 946.75,828.11 949.37,827.03 950.94,823.24 953.04,820.54 955.13,806.49 956.71,812.44 958.80,810.81 960.37,816.76 962.47,830.81 964.56,832.97 966.66,843.78 968.23,848.11 970.33,838.38 972.42,842.70 974.52,843.24 975.56,848.11 978.71,842.70 980.28,847.02 982.90,852.97 984.47,848.11 986.57,832.97 988.66,816.76 991.28,816.22 993.90,816.76 994.95,822.16 996.52,816.76 998.61,811.90 1000.19,808.65 1001.76,805.95 1004.38,807.03 1005.95,810.27 1008.04,811.90 1010.14,826.49 1011.71,835.13 1013.28,843.24 1014.85,839.46 1016.95,837.30 1019.04,832.43 1021.14,841.62 1022.71,848.65 1024.81,854.59 1026.90,861.08 1029.00,871.88 1030.57,883.23 1032.14,876.21 1033.71,858.91 1035.28,826.49 1036.86,801.63 1038.95,787.58 1039.57,785.59 1041.67,783.97 1043.76,780.18 1045.33,784.51 1047.43,796.40 1049.52,812.39 1050.57,815.64 1052.14,818.88 1055.81,817.26 1056.86,812.39 1060.00,811.31 1062.10,806.99 1063.14,805.04 1065.24,793.15 1067.33,771.54 1069.95,744.51 1072.57,731.54 1075.19,717.49 1076.76,719.65 1078.86,739.11 1081.48,758.56 1083.57,774.78 1086.19,775.86 1087.76,781.26 1090.38,779.64 1094.58,780.18 1097.19,789.91 1100.34,800.72 1102.96,801.80 1105.58,801.80 1106.10,796.40 1108.20,790.99 1110.29,795.31 1113.43,795.85 1114.48,809.15 1116.58,825.36 1119.72,854.55 1122.86,874.00 1124.96,895.62 1126.27,911.27 1127.32,916.68 1129.42,909.11 1132.04,884.25 1134.13,857.23 1135.70,837.77 1137.28,834.53 1138.85,831.83 1140.42,837.23 1143.56,837.77 1145.66,844.26 1147.75,855.07 1149.85,863.17 1152.47,859.39 1155.09,858.31 1155.61,852.36 1159.80,852.90 1165.56,852.90 1167.13,846.42 1169.23,837.77 1171.33,828.04 1172.90,831.29 1175.52,831.83 1176.56,824.80 1178.66,821.56 1181.28,822.64 1183.37,835.61 1184.95,847.50 1186.52,849.66 1188.61,859.39 1193.33,858.31 1194.37,852.90 1196.47,850.74 1198.04,841.01 1199.61,830.21 1202.23,822.10 1204.85,828.04 1206.42,838.31 1206.74,837.90 1212.50,837.90 1214.07,829.25 1217.21,826.01 1219.31,817.36 1220.88,816.82 1222.98,822.77 1226.64,822.23 1227.17,816.82 1230.83,816.82 1232.93,808.72 1235.03,801.15 1238.17,801.69 1240.26,821.69 1242.36,834.66 1244.98,849.79 1247.03,861.51 1248.87,873.40 1250.18,878.80 1252.27,873.40 1254.89,863.13 1257.51,850.70 1258.82,846.92 1261.18,848.00 1264.84,848.00 1266.41,842.59 1266.46,835.74 1269.08,816.28 1271.17,811.42 1278.51,811.42 1281.12,820.61 1284.27,833.04 1286.36,822.77 1288.46,808.72 1290.03,801.15 1291.60,806.02 1295.79,806.56 1297.36,795.75 1299.46,785.48 1302.08,790.34 1304.70,806.56 1305.18,812.82 1307.76,826.10 1311.19,839.37 1313.76,852.64 1315.90,839.37 1318.05,812.82 1319.76,790.70 1322.34,775.66 1324.39,764.57 1326.49,754.31 1328.06,759.17 1333.30,759.71 1334.35,753.77 1338.54,753.22 1339.59,748.36 1344.30,748.36 1346.40,754.85 1348.49,769.98 1352.16,771.06 1353.21,775.92 1355.30,760.25 1357.92,744.04 1359.49,723.50 1363.68,722.96 1366.83,728.90 1368.92,737.55 1371.02,749.98 1373.11,728.90 1375.21,706.21 1377.30,691.07 1379.92,695.40 1382.54,707.29 1384.64,724.58 1386.33,762.76 1387.38,778.97 1388.69,795.18 1390.26,805.99 1392.10,797.89 1393.67,781.67 1395.24,768.16 1395.64,762.41 1398.26,746.20 1400.35,742.42 1402.97,739.71 1405.07,737.55 1406.64,722.42 1408.73,706.21 1410.83,687.83 1414.81,671.14 1416.91,665.20 1419.00,667.90 1421.10,688.44 1423.72,702.49 1426.86,711.14 1430.53,716.54 1433.15,725.19 1435.24,742.48 1440.69,774.69 1443.83,785.50 1447.50,790.84 1450.64,785.50 1452.74,769.29 1454.83,754.15 1457.45,747.67 1457.77,737.08 1460.39,719.78 1461.96,716.54 1464.05,721.94 1466.67,728.43 1468.77,717.62 1471.91,716.54 1474.53,702.49 1476.63,688.44 1477.88,685.73 1480.29,696.00 1482.39,717.62 1485.01,728.43 1487.10,739.24 1488.67,743.56 1491.29,726.27 1493.39,702.49 1495.48,681.95 1497.58,675.47 1500.72,670.06 1503.34,670.06 1504.61,674.04 1506.61,684.36 1507.94,687.11 1511.27,686.42 1512.27,680.92 1513.61,686.42 1514.94,696.05 1516.94,712.56 1518.61,715.31 1520.61,711.87 1522.61,691.24 1524.27,670.61 1525.66,637.76 1527.75,610.74 1529.83,559.51 1530.88,548.70 1534.02,543.30 1536.64,548.70 1537.69,556.81 1539.26,569.24 1541.35,574.10 1543.45,575.72 1544.52,589.12 1546.61,599.93 1548.71,626.96 1551.33,659.38 1551.94,677.48 1553.94,694.68 1555.60,704.30 1557.94,701.55 1559.94,687.80 1561.93,667.17 1564.42,637.76 1565.99,632.90 1568.61,639.93 1571.23,655.06 1574.90,653.98 1575.42,648.57 1578.04,648.57 1580.14,643.17 1582.23,642.09 1583.81,617.23 1586.42,609.66 1588.52,599.93 1590.09,591.29 1592.71,597.23 1594.81,597.77 1595.85,612.90 1597.95,621.55 1600.00,624.39 1603.43,647.97 1606.28,665.66 1608.57,680.98 1613.14,680.98 1616.00,647.97 1619.43,613.77 1621.71,616.13 1624.00,632.64 1627.43,647.97 1629.72,677.45 1632.57,676.27 1634.29,650.33 1637.72,636.18 1640.00,626.74 1640.70,608.15 1643.31,602.74 1644.89,596.26 1648.03,597.34 1650.12,587.61 1652.74,575.72 1655.36,589.77 1657.46,602.74 1658.29,623.21 1660.00,635.00 1664.00,635.59 1666.29,644.43 1669.72,633.82 1672.00,619.67 1673.38,612.59 1676.58,618.49 1678.86,629.10 1682.29,644.43 1684.58,658.58 1686.86,645.61 1689.72,626.74 1691.43,618.49 1693.72,617.31 1694.86,622.03 1697.79,575.72 1699.89,548.70 1701.46,537.89" fill="none" stroke="#1f77b4" stroke-width="4.3" stroke-linejoin="round" stroke-linecap="square"/>
<polyline points="933.42,852.43 934.78,847.56 936.88,847.02 938.97,835.13 941.07,821.62 943.69,821.08 945.05,816.76 947.35,828.11 949.97,827.03 951.54,823.24 953.64,820.54 955.73,806.49 957.31,812.44 959.40,810.81 960.97,816.76 963.07,830.81 965.16,832.97 967.26,843.78 968.83,848.11 970.93,838.38 973.02,842.70 975.12,843.24 976.16,848.11 979.31,842.70 980.88,847.02 983.50,852.97 985.07,848.11 987.17,832.97 989.26,816.76 991.88,816.22 994.50,816.76 995.55,822.16 997.12,816.76 999.21,811.90 1000.79,808.65 1002.36,805.95 1004.98,807.03 1006.55,810.27 1008.64,811.90 1010.74,826.49 1012.31,835.13 1013.88,843.24 1015.45,839.46 1017.55,837.30 1019.64,832.43 1021.74,841.62 1023.31,848.65 1025.41,854.59 1027.50,861.08 1029.60,871.88 1031.17,883.23 1032.74,876.21 1034.31,858.91 1035.88,826.49 1037.46,801.63 1039.55,787.58 1040.17,785.59 1042.27,783.97 1044.36,780.18 1045.93,784.51 1048.03,796.40 1050.12,812.39 1051.17,815.64 1052.74,818.88 1056.41,817.26 1057.46,812.39 1060.60,811.31 1062.70,806.99 1063.74,805.04 1065.84,793.15 1067.93,771.54 1070.55,744.51 1073.17,731.54 1075.79,717.49 1077.36,719.65 1079.46,739.11 1082.08,758.56 1084.17,774.78 1086.79,775.86 1088.36,781.26 1090.98,779.64 1095.18,780.18 1097.79,789.91 1100.94,800.72 1103.56,801.80 1106.18,801.80 1106.70,796.40 1108.80,790.99 1110.89,795.31 1114.03,795.85 1115.08,809.15 1117.18,825.36 1120.32,854.55 1123.46,874.00 1125.56,895.62 1126.87,911.27 1127.92,916.68 1130.02,909.11 1132.64,884.25 1134.73,857.23 1136.30,837.77 1137.88,834.53 1139.45,831.83 1141.02,837.23 1144.16,837.77 1146.26,844.26 1148.35,855.07 1150.45,863.17 1153.07,859.39 1155.69,858.31 1156.21,852.36 1160.40,852.90 1166.16,852.90 1167.73,846.42 1169.83,837.77 1171.93,828.04 1173.50,831.29 1176.12,831.83 1177.16,824.80 1179.26,821.56 1181.88,822.64 1183.97,835.61 1185.55,847.50 1187.12,849.66 1189.21,859.39 1193.93,858.31 1194.97,852.90 1197.07,850.74 1198.64,841.01 1200.21,830.21 1202.83,822.10 1205.45,828.04 1207.02,838.31 1207.34,837.90 1213.10,837.90 1214.67,829.25 1217.81,826.01 1219.91,817.36 1221.48,816.82 1223.58,822.77 1227.24,822.23 1227.77,816.82 1231.43,816.82 1233.53,808.72 1235.63,801.15 1238.77,801.69 1240.86,821.69 1242.96,834.66 1245.58,849.79 1247.63,861.51 1249.47,873.40 1250.78,878.80 1252.87,873.40 1255.49,863.13 1258.11,850.70 1259.42,846.92 1261.78,848.00 1265.44,848.00 1267.01,842.59 1267.06,835.74 1269.68,816.28 1271.77,811.42 1279.11,811.42 1281.72,820.61 1284.87,833.04 1286.96,822.77 1289.06,808.72 1290.63,801.15 1292.20,806.02 1296.39,806.56 1297.96,795.75 1300.06,785.48 1302.68,790.34 1305.30,806.56 1305.78,812.82 1308.36,826.10 1311.79,839.37 1314.36,852.64 1316.50,839.37 1318.65,812.82 1320.36,790.70 1322.94,775.66 1324.99,764.57 1327.09,754.31 1328.66,759.17 1333.90,759.71 1334.95,753.77 1339.14,753.22 1340.19,748.36 1344.90,748.36 1347.00,754.85 1349.09,769.98 1352.76,772.33 1353.81,777.88 1355.90,760.90 1358.52,744.04 1360.09,723.50 1364.28,722.96 1367.43,728.90 1369.52,737.55 1371.62,749.98 1373.71,728.90 1375.81,706.21 1377.90,691.07 1380.52,695.40 1383.14,707.29 1385.24,724.58 1386.93,762.76 1387.98,779.68 1389.29,797.84 1390.86,810.00 1392.70,799.16 1394.27,781.67 1395.84,768.16 1396.24,762.41 1398.86,746.20 1400.95,742.42 1403.57,739.71 1405.67,737.55 1407.24,722.42 1409.33,706.21 1411.43,687.83 1415.41,671.14 1417.51,665.20 1419.60,667.90 1421.70,688.44 1424.32,702.49 1427.46,711.14 1431.13,716.54 1433.75,725.19 1435.84,742.48 1441.29,774.69 1444.43,785.50 1448.10,799.40 1451.24,785.50 1453.34,769.29 1455.43,754.15 1458.05,747.67 1458.37,737.08 1460.99,719.78 1462.56,716.54 1464.65,721.94 1467.27,728.43 1469.37,717.62 1472.51,716.54 1475.13,702.49 1477.23,688.44 1478.48,685.73 1480.89,696.00 1482.99,717.62 1485.61,728.43 1487.70,740.18 1489.27,745.54 1491.89,726.55 1493.99,702.49 1496.08,681.95 1498.18,675.47 1501.32,670.06 1503.94,670.06 1505.21,674.04 1507.21,684.36 1508.54,687.11 1511.87,686.42 1512.87,680.92 1514.21,686.42 1515.54,696.05 1517.54,716.79 1519.21,725.06 1521.21,715.50 1523.21,691.24 1524.87,670.61 1526.26,640.53 1528.35,618.17 1530.43,575.79 1531.48,566.85 1534.62,562.38 1537.24,566.85 1538.29,573.56 1539.86,583.84 1541.95,587.86 1544.05,589.20 1545.12,600.29 1547.21,609.23 1549.31,631.59 1551.93,659.38 1552.54,677.48 1554.54,697.71 1556.20,709.52 1558.54,702.36 1560.54,687.80 1562.53,667.17 1565.02,640.53 1566.59,636.50 1569.21,642.32 1571.83,655.06 1575.50,653.98 1576.02,649.47 1578.64,649.47 1580.74,645.00 1582.83,644.10 1584.41,623.54 1587.02,617.28 1589.12,609.23 1590.69,602.08 1593.31,607.00 1595.41,607.44 1596.45,619.96 1598.55,627.12 1600.60,629.46 1604.03,648.97 1606.88,665.66 1609.17,680.98 1613.74,680.98 1616.60,648.97 1620.03,620.68 1622.31,622.63 1624.60,636.29 1628.03,649.43 1630.32,679.42 1633.17,676.40 1634.89,650.92 1638.32,639.21 1640.60,631.41 1641.30,616.03 1643.91,611.56 1645.49,606.19 1648.63,607.09 1650.72,599.04 1653.34,589.20 1655.96,600.83 1658.06,611.56 1658.89,628.48 1660.60,638.24 1664.60,638.73 1666.89,646.04 1670.32,637.26 1672.60,625.56 1673.98,619.71 1677.18,624.58 1679.46,633.36 1682.89,646.56 1685.18,660.55 1687.46,647.47 1690.32,631.41 1692.03,624.58 1694.32,623.61 1695.46,627.51 1698.39,589.20 1700.49,566.85 1702.06,557.91" fill="none" stroke="#ff7f0e" stroke-width="2.3" stroke-linejoin="round" stroke-linecap="square"/>
</g>
<rect x="932.50" y="519.10" width="776.40" height="418.30" fill="none" stroke="#484848" stroke-width="1.6"/>
<line x1="932.50" y1="909.60" x2="937.00" y2="909.60" stroke="#484848" stroke-width="1.3"/>
<text id="t65" transform="translate(902.81,913.97) scale(1.0697,1)" font-family='"DejaVu Sans", "Liberation Sans", sans-serif' font-size="10.556" fill="#1c1c1c" stroke="#1c1c1c" stroke-width="0.25">0.05</text>
<line x1="932.50" y1="860.40" x2="937.00" y2="860.40" stroke="#484848" stroke-width="1.3"/>
<text id="t66" transform="translate(902.82,864.80) scale(1.0589,1)" font-family='"DejaVu Sans", "Liberation Sans", sans-serif' font-size="10.563" fill="#1c1c1c" stroke="#1c1c1c" stroke-width="0.25">0.10</text>
<line x1="932.50" y1="811.20" x2="937.00" y2="811.20" stroke="#484848" stroke-width="1.3"/>
<text id="t67" transform="translate(902.81,815.63) scale(1.0696,1)" font-family='"DejaVu Sans", "Liberation Sans", sans-serif' font-size="10.556" fill="#1c1c1c" stroke="#1c1c1c" stroke-width="0.25">0.15</text>
<line x1="932.50" y1="762.00" x2="937.00" y2="762.00" stroke="#484848" stroke-width="1.3"/>
<text id="t68" transform="translate(902.81,766.33) scale(1.0578,1)" font-family='"DejaVu Sans", "Liberation Sans", sans-serif' font-size="10.569" fill="#1c1c1c" stroke="#1c1c1c" stroke-width="0.25">0.20</text>
<line x1="932.50" y1="712.80" x2="937.00" y2="712.80" stroke="#484848" stroke-width="1.3"/>
<text id="t69" transform="translate(902.81,717.15) scale(1.0696,1)" font-family='"DejaVu Sans", "Liberation Sans", sans-serif' font-size="10.556" fill="#1c1c1c" stroke="#1c1c1c" stroke-width="0.25">0.25</text>
<line x1="932.50" y1="663.60" x2="937.00" y2="663.60" stroke="#484848" stroke-width="1.3"/>
<text id="t70" transform="translate(902.82,667.97) scale(1.0593,1)" font-family='"DejaVu Sans", "Liberation Sans", sans-serif' font-size="10.559" fill="#1c1c1c" stroke="#1c1c1c" stroke-width="0.25">0.30</text>
<line x1="932.50" y1="614.40" x2="937.00" y2="614.40" stroke="#484848" stroke-width="1.3"/>
<text id="t71" transform="translate(902.81,618.80) scale(1.0696,1)" font-family='"DejaVu Sans", "Liberation Sans", sans-serif' font-size="10.556" fill="#1c1c1c" stroke="#1c1c1c" stroke-width="0.25">0.35</text>
<line x1="932.50" y1="565.20" x2="937.00" y2="565.20" stroke="#484848" stroke-width="1.3"/>
<text id="t72" transform="translate(902.82,569.63) scale(1.0589,1)" font-family='"DejaVu Sans", "Liberation Sans", sans-serif' font-size="10.563" fill="#1c1c1c" stroke="#1c1c1c" stroke-width="0.25">0.40</text>
<text id="t73" transform="translate(928.39,949.64) scale(1.3052,1)" font-family='"DejaVu Sans", "Liberation Sans", sans-serif' font-size="10.169" fill="#1c1c1c" stroke="#1c1c1c" stroke-width="0.25">0</text>
<line x1="975.63" y1="937.40" x2="975.63" y2="933.40" stroke="#484848" stroke-width="1.3"/>
<text id="t74" transform="translate(964.60,949.64) scale(1.1445,1)" font-family='"DejaVu Sans", "Liberation Sans", sans-serif' font-size="10.165" fill="#1c1c1c" stroke="#1c1c1c" stroke-width="0.25">200</text>
<line x1="1018.77" y1="937.40" x2="1018.77" y2="933.40" stroke="#484848" stroke-width="1.3"/>
<text id="t75" transform="translate(1007.94,949.64) scale(1.1307,1)" font-family='"DejaVu Sans", "Liberation Sans", sans-serif' font-size="10.172" fill="#1c1c1c" stroke="#1c1c1c" stroke-width="0.25">400</text>
<line x1="1061.90" y1="937.40" x2="1061.90" y2="933.40" stroke="#484848" stroke-width="1.3"/>
<text id="t76" transform="translate(1050.86,949.64) scale(1.1430,1)" font-family='"DejaVu Sans", "Liberation Sans", sans-serif' font-size="10.162" fill="#1c1c1c" stroke="#1c1c1c" stroke-width="0.25">600</text>
<line x1="1105.03" y1="937.40" x2="1105.03" y2="933.40" stroke="#484848" stroke-width="1.3"/>
<text id="t77" transform="translate(1094.01,949.64) scale(1.1445,1)" font-family='"DejaVu Sans", "Liberation Sans", sans-serif' font-size="10.166" fill="#1c1c1c" stroke="#1c1c1c" stroke-width="0.25">800</text>
<line x1="1148.17" y1="937.40" x2="1148.17" y2="933.40" stroke="#484848" stroke-width="1.3"/>
<text id="t78" transform="translate(1133.20,949.64) scale(1.1450,1)" font-family='"DejaVu Sans", "Liberation Sans", sans-serif' font-size="10.165" fill="#1c1c1c" stroke="#1c1c1c" stroke-width="0.25">1000</text>
<line x1="1191.30" y1="937.40" x2="1191.30" y2="933.40" stroke="#484848" stroke-width="1.3"/>
<text id="t79" transform="translate(1176.33,949.64) scale(1.1431,1)" font-family='"DejaVu Sans", "Liberation Sans", sans-serif' font-size="10.170" fill="#1c1c1c" stroke="#1c1c1c" stroke-width="0.25">1200</text>
<line x1="1234.43" y1="937.40" x2="1234.43" y2="933.40" stroke="#484848" stroke-width="1.3"/>
<text id="t80" transform="translate(1219.43,949.64) scale(1.1457,1)" font-family='"DejaVu Sans", "Liberation Sans", sans-serif' font-size="10.165" fill="#1c1c1c" stroke="#1c1c1c" stroke-width="0.25">1400</text>
<line x1="1277.57" y1="937.40" x2="1277.57" y2="933.40" stroke="#484848" stroke-width="1.3"/>
<text id="t81" transform="translate(1262.66,949.64) scale(1.1434,1)" font-family='"DejaVu Sans", "Liberation Sans", sans-serif' font-size="10.164" fill="#1c1c1c" stroke="#1c1c1c" stroke-width="0.25">1600</text>
<line x1="1320.70" y1="937.40" x2="1320.70" y2="933.40" stroke="#484848" stroke-width="1.3"/>
<text id="t82" transform="translate(1305.75,949.64) scale(1.1415,1)" font-family='"DejaVu Sans", "Liberation Sans", sans-serif' font-size="10.165" fill="#1c1c1c" stroke="#1c1c1c" stroke-width="0.25">1800</text>
<line x1="1363.83" y1="937.40" x2="1363.83" y2="933.40" stroke="#484848" stroke-width="1.3"/>
<text id="t83" transform="translate(1349.36,949.64) scale(1.1282,1)" font-family='"DejaVu Sans", "Liberation Sans", sans-serif' font-size="10.165" fill="#1c1c1c" stroke="#1c1c1c" stroke-width="0.25">2000</text>
<line x1="1406.97" y1="937.40" x2="1406.97" y2="933.40" stroke="#484848" stroke-width="1.3"/>
<text id="t84" transform="translate(1392.39,949.64) scale(1.1276,1)" font-family='"DejaVu Sans", "Liberation Sans", sans-serif' font-size="10.165" fill="#1c1c1c" stroke="#1c1c1c" stroke-width="0.25">2200</text>
<line x1="1450.10" y1="937.40" x2="1450.10" y2="933.40" stroke="#484848" stroke-width="1.3"/>
<text id="t85" transform="translate(1435.63,949.64) scale(1.1258,1)" font-family='"DejaVu Sans", "Liberation Sans", sans-serif' font-size="10.171" fill="#1c1c1c" stroke="#1c1c1c" stroke-width="0.25">2400</text>
<line x1="1493.23" y1="937.40" x2="1493.23" y2="933.40" stroke="#484848" stroke-width="1.3"/>
<text id="t86" transform="translate(1478.71,949.64) scale(1.1250,1)" font-family='"DejaVu Sans", "Liberation Sans", sans-serif' font-size="10.164" fill="#1c1c1c" stroke="#1c1c1c" stroke-width="0.25">2600</text>
<line x1="1536.37" y1="937.40" x2="1536.37" y2="933.40" stroke="#484848" stroke-width="1.3"/>
<text id="t87" transform="translate(1521.86,949.64) scale(1.1260,1)" font-family='"DejaVu Sans", "Liberation Sans", sans-serif' font-size="10.167" fill="#1c1c1c" stroke="#1c1c1c" stroke-width="0.25">2800</text>
<line x1="1579.50" y1="937.40" x2="1579.50" y2="933.40" stroke="#484848" stroke-width="1.3"/>
<text id="t88" transform="translate(1564.95,949.64) scale(1.1274,1)" font-family='"DejaVu Sans", "Liberation Sans", sans-serif' font-size="10.161" fill="#1c1c1c" stroke="#1c1c1c" stroke-width="0.25">3000</text>
<line x1="1622.63" y1="937.40" x2="1622.63" y2="933.40" stroke="#484848" stroke-width="1.3"/>
<text id="t89" transform="translate(1608.11,949.64) scale(1.1259,1)" font-family='"DejaVu Sans", "Liberation Sans", sans-serif' font-size="10.159" fill="#1c1c1c" stroke="#1c1c1c" stroke-width="0.25">3200</text>
<line x1="1665.77" y1="937.40" x2="1665.77" y2="933.40" stroke="#484848" stroke-width="1.3"/>
<text id="t90" transform="translate(1651.19,949.64) scale(1.1277,1)" font-family='"DejaVu Sans", "Liberation Sans", sans-serif' font-size="10.159" fill="#1c1c1c" stroke="#1c1c1c" stroke-width="0.25">3400</text>
<text id="t91" transform="translate(1694.37,949.64) scale(1.1283,1)" font-family='"DejaVu Sans", "Liberation Sans", sans-serif' font-size="10.158" fill="#1c1c1c" stroke="#1c1c1c" stroke-width="0.25">3600</text>
<text id="t92" transform="translate(1253.06,967.99) scale(1.3364,1)" font-family='"Liberation Serif", serif' font-size="17.386" fill="#1a1a1a" stroke="#151515" stroke-width="0.2">Time (second)</text>
<text id="t93" transform="translate(890.82,789.85) rotate(-90) scale(0.8277,1)" font-family='"Liberation Serif", serif' font-size="23.309" fill="#1a1a1a" stroke="#151515" stroke-width="0.2">PM2.5 (µg/m3)</text>
<rect x="940.30" y="525.90" width="139.10" height="43.90" rx="3.0" ry="3.0" fill="#ffffff" fill-opacity="0.8" stroke="#d9d9d9" stroke-width="1.3"/>
<line x1="944.60" y1="536.50" x2="981.20" y2="536.50" stroke="#1f77b4" stroke-width="3.0"/>
<text id="t94" transform="translate(992.33,542.41) scale(1.2382,1)" font-family='"DejaVu Sans", "Liberation Sans", sans-serif' font-size="13.222" fill="#1c1c1c" stroke="#1c1c1c" stroke-width="0.25">Test data</text>
<line x1="945.50" y1="556.90" x2="980.40" y2="556.90" stroke="#ff7f0e" stroke-width="1.9"/>
<text id="t95" transform="translate(991.46,562.11) scale(1.2351,1)" font-family='"DejaVu Sans", "Liberation Sans", sans-serif' font-size="13.145" fill="#1c1c1c" stroke="#1c1c1c" stroke-width="0.25">Prediction</text>
</g>
<text id="t96" transform="translate(401.49,495.17) scale(0.9213,1)" font-family='"Liberation Serif", serif' font-size="36.124" fill="#000" stroke="#ffffff" stroke-width="0.8">(</text>
<text id="t97" transform="translate(412.80,494.16) scale(0.9306,1)" font-family='"Liberation Serif", serif' font-size="33.936" font-weight="bold" fill="#000">a</text>
<text id="t98" transform="translate(428.89,495.08) scale(0.9286,1)" font-family='"Liberation Serif", serif' font-size="36.123" fill="#000" stroke="#ffffff" stroke-width="0.8">)</text>
<text id="t99" transform="translate(1271.49,495.17) scale(0.9213,1)" font-family='"Liberation Serif", serif' font-size="36.124" fill="#000" stroke="#ffffff" stroke-width="0.8">(</text>
<text id="t100" transform="translate(1282.67,494.37) scale(1.0168,1)" font-family='"Liberation Serif", serif' font-size="35.026" font-weight="bold" fill="#000">b</text>
<text id="t101" transform="translate(1302.55,495.18) scale(0.9516,1)" font-family='"Liberation Serif", serif' font-size="36.040" fill="#000" stroke="#ffffff" stroke-width="0.8">)</text>
<text id="t102" transform="translate(402.70,1014.87) scale(0.9054,1)" font-family='"Liberation Serif", serif' font-size="35.870" fill="#000" stroke="#ffffff" stroke-width="0.8">(</text>
<text id="t103" transform="translate(413.89,1014.61) scale(0.9916,1)" font-family='"Liberation Serif", serif' font-size="33.779" font-weight="bold" fill="#000">c</text>
<text id="t104" transform="translate(428.49,1014.97) scale(0.9030,1)" font-family='"Liberation Serif", serif' font-size="35.972" fill="#000" stroke="#ffffff" stroke-width="0.8">)</text>
<text id="t105" transform="translate(1271.47,1014.90) scale(0.9271,1)" font-family='"Liberation Serif", serif' font-size="35.924" fill="#000" stroke="#ffffff" stroke-width="0.8">(</text>
<text id="t106" transform="translate(1282.66,1014.49) scale(1.0248,1)" font-family='"Liberation Serif", serif' font-size="35.019" font-weight="bold" fill="#000">d</text>
<text id="t107" transform="translate(1302.59,1014.94) scale(0.9757,1)" font-family='"Liberation Serif", serif' font-size="35.935" fill="#000" stroke="#ffffff" stroke-width="0.8">)</text>
</svg>
</body></html>
